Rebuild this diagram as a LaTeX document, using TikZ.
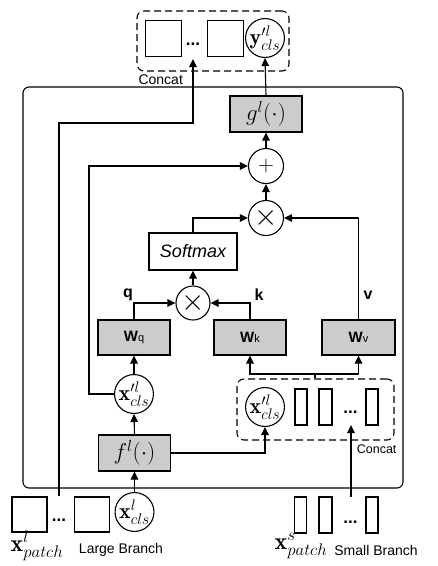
\RequirePackage{fix-cm}
\documentclass[tikz,border=0pt]{standalone}
\usepackage{fontspec}
\newfontfamily\arial{Liberation Sans}
\usetikzlibrary{arrows.meta,calc}
\begin{document}
\begin{tikzpicture}[x=1pt,y=-1pt,line width=1.1pt,
  arr/.style={-{Triangle[length=8pt,width=7.5pt]}},
  graybox/.style={draw,fill=black!20,minimum width=72,minimum height=36,inner sep=0},
  whitebox/.style={draw,fill=white,minimum width=88,minimum height=37,inner sep=0},
  opc/.style={draw,circle,minimum size=35,inner sep=0,fill=white},
  tokc/.style={draw,circle,minimum size=36,inner sep=0,fill=white,font=\fontsize{22}{24}\selectfont},
  dbox/.style={draw,dash pattern=on 7pt off 4pt,rounded corners=7pt,inner sep=0},
  patchsq/.style={draw,minimum width=36,minimum height=36,inner sep=0},
  tokr/.style={draw,minimum width=12,minimum height=36,inner sep=0},
  dots/.style={inner sep=0,font=\arial\bfseries\fontsize{17}{18}\selectfont},
  lab/.style={inner sep=0,font=\arial\fontsize{14}{16}\selectfont},
  mlab/.style={inner sep=0,font=\fontsize{24}{26}\selectfont},
  vlab/.style={inner sep=0,font=\arial\bfseries\fontsize{16}{18}\selectfont}
]
\useasboundingbox (0,0) rectangle (438,566);

% main block
\draw[rounded corners=6pt] (23,87) rectangle (403,488);

% top concat
\node[dbox,minimum width=152,minimum height=60] (topbox) at (213,41) {};
\node[patchsq] (ysq1) at (163.5,38.5) {};
\node[dots] (ydots) at (193,44) {...};
\node[patchsq] (ysq2) at (225.5,38.5) {};
\node[opc,font=\fontsize{22}{24}\selectfont] (ycls) at (265,38) {$\mathbf{y}'^{l}_{cls}$};
\node[lab,anchor=west] (concat1) at (138,80) {Concat};

% transformer path
\node[graybox] (g) at (266,114) {\fontsize{23}{25}\selectfont$g^{l}(\cdot)$};
\node[opc,font=\fontsize{22}{24}\selectfont] (plus) at (266,166) {$+$};
\node[opc,font=\fontsize{30}{32}\selectfont] (times) at (266,218) {$\times$};
\node[whitebox] (softmax) at (193,251.5) {\arial\itshape\fontsize{18}{20}\selectfont Softmax};
\node[opc,minimum size=34,font=\fontsize{30}{32}\selectfont] (qk) at (193,303) {$\times$};
\node[graybox,minimum height=35] (wq) at (134,337.5) {\arial\bfseries\fontsize{15}{16}\selectfont W\mdseries\fontsize{11}{12}\selectfont q};
\node[graybox,minimum height=35] (wk) at (250,337.5) {\arial\bfseries\fontsize{15}{16}\selectfont W\mdseries\fontsize{11}{12}\selectfont k};
\node[graybox,minimum height=35,minimum width=73] (wv) at (358.5,337.5) {\arial\bfseries\fontsize{15}{16}\selectfont W\mdseries\fontsize{11}{12}\selectfont v};
\node[vlab] (qlab) at (128,295) {q};
\node[vlab] (klab) at (259,295) {k};
\node[vlab] (vlab) at (368,295) {v};

\node[tokc] (xcl) at (134,394) {$\mathbf{x}'^{l}_{cls}$};
\node[graybox] (f) at (134.5,453) {\fontsize{23}{25}\selectfont$f^{l}(\cdot)$};

% right concat
\node[dbox,minimum width=157,minimum height=61] (rbox) at (315.5,409.5) {};
\node[tokc] (xcr) at (265,407) {$\mathbf{x}'^{l}_{cls}$};
\node[tokr] (r1) at (301,407) {};
\node[tokr,minimum width=13] (r2) at (325.5,407) {};
\node[dots] (rdots) at (350.5,412) {...};
\node[tokr] (r3) at (372,407) {};
\node[lab,anchor=east,font=\arial\fontsize{12.5}{14}\selectfont] (concat2) at (397,449) {Concat};

% bottom inputs
\node[patchsq,minimum width=35,minimum height=35] (lp1) at (29.5,514.5) {};
\node[dots] (ldots) at (59,520) {...};
\node[patchsq,minimum width=35,minimum height=35] (lp2) at (92,514.5) {};
\node[tokc] (xcb) at (134.5,512) {$\mathbf{x}^{l}_{cls}$};
\node[mlab] (xpl) at (37,546) {$\mathbf{x}^{l}_{patch}$};
\node[lab] (largebr) at (121,550) {Large Branch};

\node[tokr] (s1) at (300.5,515) {};
\node[tokr,minimum width=13] (s2) at (325.5,515) {};
\node[dots] (sdots) at (350.5,522) {...};
\node[tokr] (s3) at (372,515) {};
\node[mlab] (xps) at (301,546) {$\mathbf{x}^{s}_{patch}$};
\node[lab] (smallbr) at (376,550) {Small Branch};

% coordinates
\coordinate (lstart) at (59,496);
\coordinate (lbend) at (59,123);
\coordinate (resid) at (89,300);
\coordinate (split) at (315,374);
\coordinate (sstart) at (351,497);
\coordinate (sarr) at (351,425);
\coordinate (yarr) at (193,59);

% connectors
\draw[arr] (lstart) -- (lbend) -| (yarr);
\draw[arr] (g.north) -- (ycls.south);
\draw[arr] (plus.north) -- (g.south);
\draw[arr] (times.north) -- (plus.south);
\draw[arr] (xcl.west) -| (resid) |- (plus.west);
\draw[arr] (softmax.north) |- (times.west);
\draw[arr] (wv.north) |- (times.east);
\draw[arr] (qk.north) -- (softmax.south);
\draw[arr] (wq.north) |- (qk.west);
\draw[arr] (wk.north) |- (qk.east);
\draw[arr] (xcl.north) -- (wq.south);
\draw[arr] (f.north) -- (xcl.south);
\draw[arr] (xcb.north) -- (f.south);
\draw[arr] (f.east) -| (xcr.south);
\draw (split |- rbox.north) -- (split);
\draw[arr] (split) -| (wk.south);
\draw[arr] (split) -| (wv.south);
\draw[arr] (sstart) -- (sarr);
\end{tikzpicture}
\end{document}
